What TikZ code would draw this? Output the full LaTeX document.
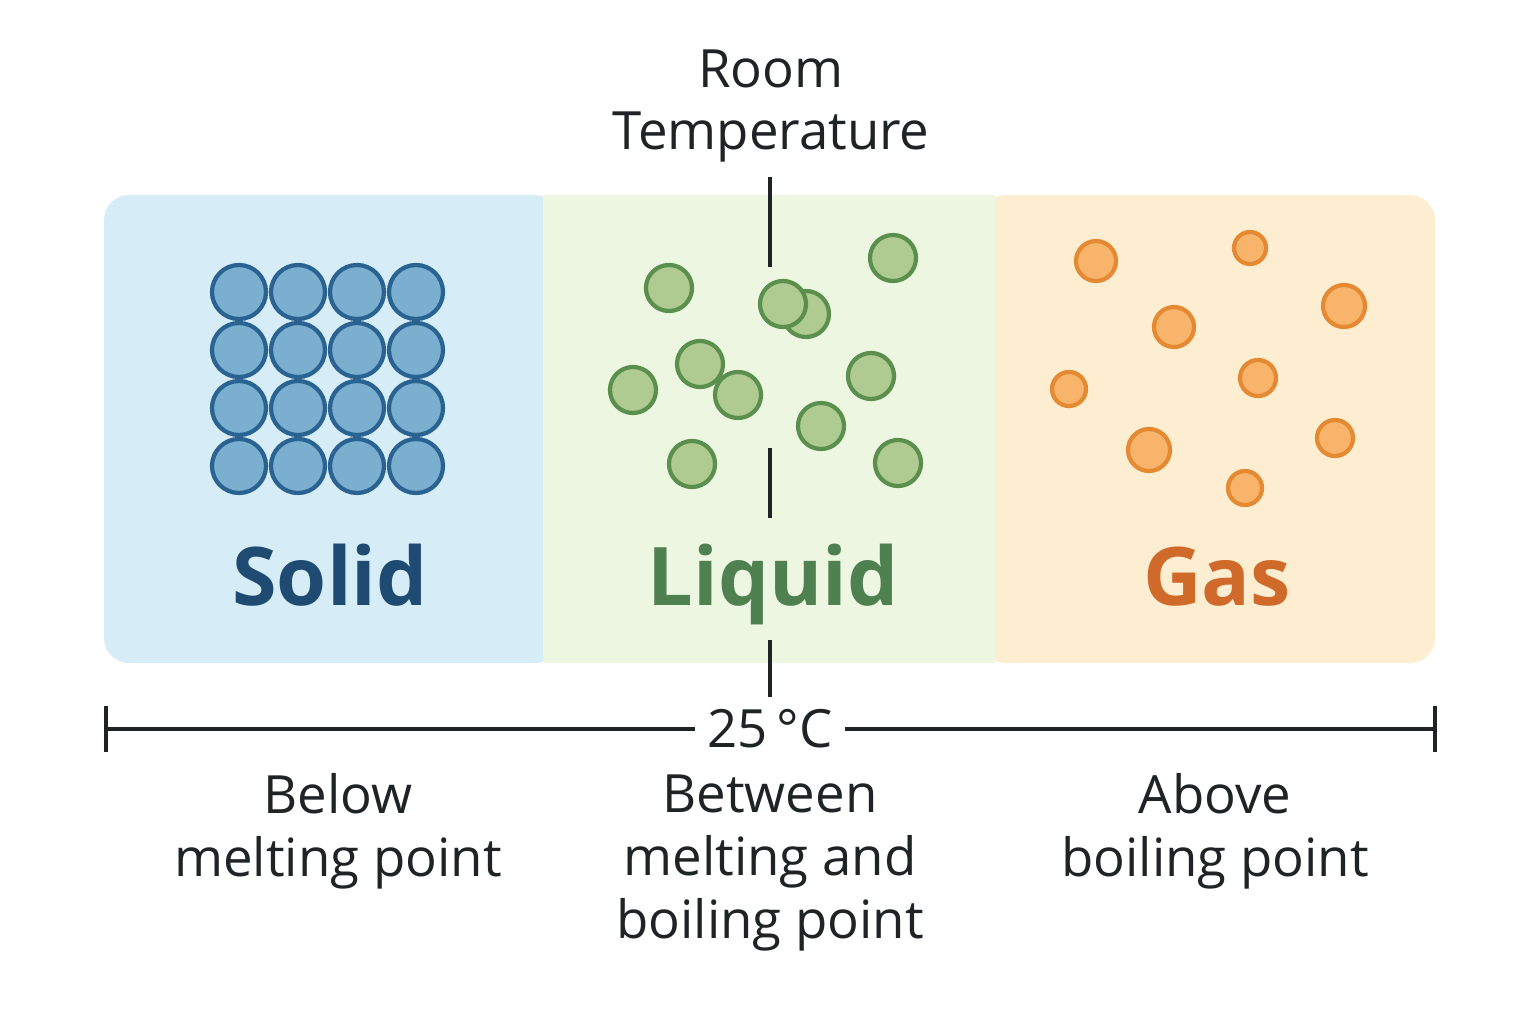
\documentclass[tikz,border=0pt]{standalone}
\usepackage{fontspec}
\setmainfont{Open Sans}
\usetikzlibrary{positioning}

\definecolor{solidfill}{HTML}{D6EDF8}
\definecolor{liquidfill}{HTML}{EDF6E1}
\definecolor{gasfill}{HTML}{FDEED2}
\definecolor{solidball}{HTML}{7BAFD0}
\definecolor{solidline}{HTML}{2A6391}
\definecolor{liquidball}{HTML}{AFCB91}
\definecolor{liquidline}{HTML}{5A8F4E}
\definecolor{gasball}{HTML}{F8B46A}
\definecolor{gasline}{HTML}{E58A33}
\definecolor{solidtext}{HTML}{1F4B73}
\definecolor{liquidtext}{HTML}{4F8050}
\definecolor{gastext}{HTML}{D06A2A}
\definecolor{ink}{HTML}{1E2326}

\begin{document}
\begin{tikzpicture}[x=0.01cm,y=-0.01cm,
    sball/.style={circle, draw=solidline, fill=solidball, line width=1.2pt, minimum size=0.54cm, inner sep=0pt},
    lball/.style={circle, draw=liquidline, fill=liquidball, line width=1.2pt, minimum size=0.46cm, inner sep=0pt},
    gball/.style={circle, draw=gasline, fill=gasball, line width=1.2pt, inner sep=0pt},
    phase/.style={font=\fontsize{23}{28}\selectfont\bfseries, anchor=base},
    caption/.style={font=\fontsize{15}{17.8}\selectfont, text=ink, align=center},
    axis/.style={draw=ink, line width=1.4pt}
]
\useasboundingbox (0,0) rectangle (1536,1024);

% Panels
\fill[solidfill, rounded corners=0.25cm] (104,195) rectangle (560,663);
\fill[gasfill, rounded corners=0.25cm] (980,195) rectangle (1435,663);
\fill[liquidfill] (543,195) rectangle (995,663);

% Solid particles
\foreach \i/\x in {1/239,2/298,3/357,4/416}
  \foreach \j/\y in {1/292,2/350,3/408,4/466}
    \node[sball] (s\i\j) at (\x,\y) {};

% Liquid particles
\foreach \n/\x/\y in {a/806/314,b/669/288,c/893/258,d/783/304,e/700/364,f/738/395,
    g/633/390,h/871/376,i/821/426,j/692/464,k/898/463}
  \node[lball] (l\n) at (\x,\y) {};

% Gas particles
\foreach \n/\x/\y/\r in {a/1096/261/20,b/1250/248/16,c/1344/306/21,d/1174/327/20,
    e/1069/389/17,f/1258/378/18,g/1149/450/21,h/1335/438/18,i/1245/488/17}
  \node[gball, minimum size=2*\r*0.01cm] (g\n) at (\x,\y) {};

% Phase names
\node[phase, text=solidtext] (solid) at (330,605) {Solid};
\node[phase, text=liquidtext] (liquid) at (773,605) {Liquid};
\node[phase, text=gastext] (gas) at (1217,605) {Gas};

% Room temperature marker
\node[caption] (room) at (771,106) {Room\\Temperature};
\node[caption] (temp) at (770,729) {25\,°C};
\coordinate (m1) at (770,177); \coordinate (m2) at (770,267);
\coordinate (m3) at (770,448); \coordinate (m4) at (770,518);
\coordinate (m5) at (770,640);
\draw[axis] (m1) -- (m2);
\draw[axis] (m3) -- (m4);
\draw[axis] (m5) -- (temp.north);

% Temperature axis
\coordinate (left) at (106,729); \coordinate (right) at (1435,729);
\draw[axis] (left) -- (temp.west);
\draw[axis] (temp.east) -- (right);
\draw[axis] ([yshift=-0.23cm]left) -- ([yshift=0.23cm]left);
\draw[axis] ([yshift=-0.23cm]right) -- ([yshift=0.23cm]right);

% Ranges
\node[caption] (below) at (338,831) {Below\\melting point};
\node[caption] (between) at (770,863) {Between\\melting and\\boiling point};
\node[caption] (above) at (1215,831) {Above\\boiling point};

\end{tikzpicture}
\end{document}
